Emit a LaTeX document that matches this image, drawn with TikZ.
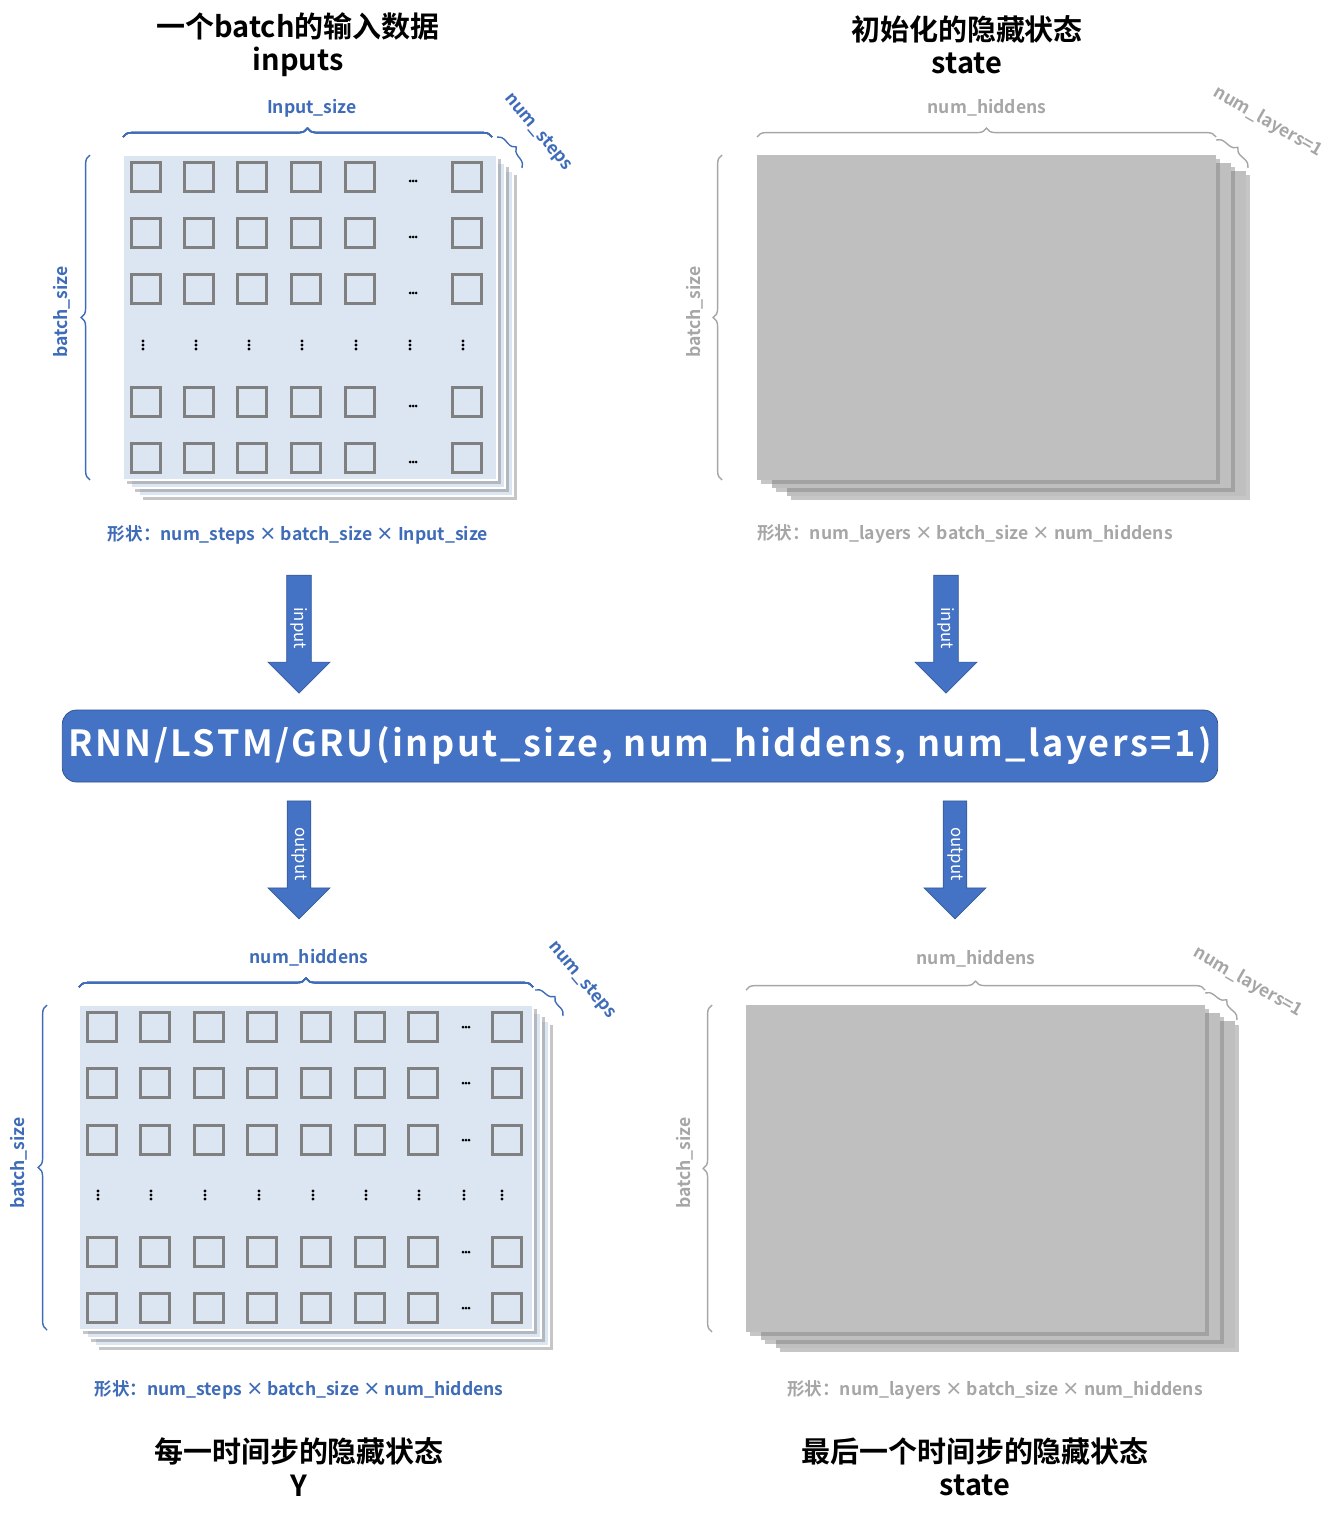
\documentclass[tikz,border=0pt]{standalone}
\usepackage{fontspec}
\setmainfont{Noto Sans CJK SC}[BoldFont={* Bold}]
\usetikzlibrary{shapes.arrows, decorations.pathreplacing, shadows}

\definecolor{rnnblue}{HTML}{4472C4}
\definecolor{lblue}{HTML}{3F6CB8}
\definecolor{cellbg}{HTML}{DCE6F2}
\definecolor{lgray}{HTML}{A6A6A6}
\definecolor{sgray}{HTML}{BFBFBF}

\tikzset{
  title/.style={font=\bfseries\fontsize{16.5}{19}\selectfont, align=center},
  lbl/.style={font=\bfseries\fontsize{10}{12}\selectfont},
  brc/.style={decorate, decoration={brace, amplitude=5pt}, line width=0.8pt},
  layer/.style={fill=cellbg, draw=white, line width=0.6pt, drop shadow={opacity=0.45, shadow xshift=2pt, shadow yshift=-2pt}},
  glayer/.style={fill=sgray, drop shadow={opacity=0.45, shadow xshift=2pt, shadow yshift=-2pt}},
  cell/.style={draw=black!50, line width=1.2pt, minimum size=0.58cm, inner sep=0pt},
  flow/.style={single arrow, fill=rnnblue, draw=rnnblue!80!black, rotate=-90,
    minimum height=2.36cm, minimum width=1.24cm, single arrow head extend=0.32cm,
    single arrow tip angle=90, inner sep=1pt, text=white, font=\fontsize{9.5}{10}\selectfont}
}
% three dots, across (h) or down (v)
\newcommand{\hdots}[2]{\foreach \k in {-3,0,3} \fill (#1+\k,#2) circle (1.5);}
\newcommand{\vdotz}[2]{\foreach \k in {-4,0,4} \fill (#1,#2+\k) circle (1.6);}

\begin{document}
\begin{tikzpicture}[x=0.02cm, y=-0.02cm]
\useasboundingbox (0,0) rectangle (1344,1520);

% titles
\node[title] (t1) at (298,45)   {一个batch的输入数据\\inputs};
\node[title] (t2) at (967,45)   {初始化的隐藏状态\\state};
\node[title] (t3) at (299,1467) {每一时间步的隐藏状态\\Y};
\node[title] (t4) at (975,1467) {最后一个时间步的隐藏状态\\state};

% inputs
\foreach \d in {16,8,0}
  \fill[layer] (123+\d,155+\d) rectangle (497+\d,480+\d);
\foreach \y in {177,233,289,402,458} {
  \foreach \x in {146,199,252,306,360,467}
    \node[cell] at (\x,\y) {};
  \hdots{413}{\y+4}
}
\foreach \x in {143,196,249,302,356,410,463}
  \vdotz{\x}{345}
\draw[brc, lblue] (123,137) -- (492,137);
\draw[brc, lblue] (497,137) -- (522,168);
\draw[brc, lblue] (90,480) -- (90,155);
\node[lbl, text=lblue] (is) at (312,108) {Input\_size};
\node[lbl, text=lblue, rotate=-50] (ns1) at (538,132) {num\_steps};
\node[lbl, text=lblue, rotate=90] (bs1) at (62,312) {batch\_size};
\node[lbl, text=lblue] (sh1) at (298,535) {形状：num\_steps × batch\_size × Input\_size};

% initial state
\foreach \d in {2,1,0}
  \fill[glayer] (757+15*\d,155+8*\d) rectangle (1216+15*\d,480+8*\d);
\draw[brc, lgray] (757,137) -- (1216,137);
\draw[brc, lgray] (1216,140) -- (1248,168);
\draw[brc, lgray] (722,480) -- (722,155);
\node[lbl, text=lgray] (nh2) at (987,108) {num\_hiddens};
\node[lbl, text=lgray, rotate=-30] (nl2) at (1268,122) {num\_layers=1};
\node[lbl, text=lgray, rotate=90] (bs2) at (695,312) {batch\_size};
\node[lbl, text=lgray] (sh2) at (965,534) {形状：num\_layers × batch\_size × num\_hiddens};

% model
\node[flow] (in1) at (299,628) {input};
\node[flow] (in2) at (946,628) {input};
\node[fill=rnnblue, draw=rnnblue!70!black, rounded corners=8pt, minimum width=23cm, minimum height=1.44cm,
  text=white, font=\bfseries\fontsize{20.5}{24}\selectfont\addfontfeature{LetterSpace=7}] (rnn) at (640,746)
  {RNN/LSTM/GRU(input\_size, num\_hiddens, num\_layers=1)};
\node[flow] (out1) at (299,854) {output};
\node[flow] (out2) at (955,854) {output};

% outputs Y
\foreach \d in {16,8,0}
  \fill[layer] (79+\d,1005+\d) rectangle (533+\d,1330+\d);
\foreach \y in {1027,1083,1140,1252,1308} {
  \foreach \x in {102,155,209,262,316,370,423,507}
    \node[cell] at (\x,\y) {};
  \hdots{466}{\y}
}
\foreach \x in {98,151,205,259,313,366,419,464,502}
  \vdotz{\x}{1195}
\draw[brc, lblue] (79,987) -- (533,987);
\draw[brc, lblue] (535,990) -- (563,1016);
\draw[brc, lblue] (47,1330) -- (47,1005);
\node[lbl, text=lblue] (nh3) at (309,958) {num\_hiddens};
\node[lbl, text=lblue, rotate=-50] (ns3) at (582,980) {num\_steps};
\node[lbl, text=lblue, rotate=90] (bs3) at (19,1163) {batch\_size};
\node[lbl, text=lblue] (sh3) at (299,1390) {形状：num\_steps × batch\_size × num\_hiddens};

% last state
\foreach \d in {2,1,0}
  \fill[glayer] (746+15*\d,1005+8*\d) rectangle (1205+15*\d,1332+8*\d);
\draw[brc, lgray] (746,990) -- (1205,990);
\draw[brc, lgray] (1205,993) -- (1237,1020);
\draw[brc, lgray] (712,1332) -- (712,1005);
\node[lbl, text=lgray] (nh4) at (976,959) {num\_hiddens};
\node[lbl, text=lgray, rotate=-30] (nl4) at (1248,982) {num\_layers=1};
\node[lbl, text=lgray, rotate=90] (bs4) at (685,1163) {batch\_size};
\node[lbl, text=lgray] (sh4) at (995,1390) {形状：num\_layers × batch\_size × num\_hiddens};
\end{tikzpicture}
\end{document}
